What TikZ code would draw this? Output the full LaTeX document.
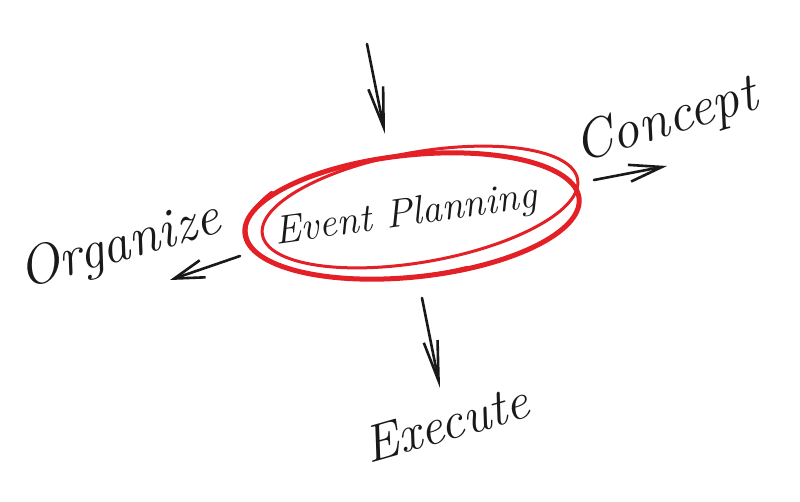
\documentclass[tikz,border=0pt]{standalone}
\usetikzlibrary{arrows.meta}
\definecolor{inkred}{RGB}{226,32,38}
\definecolor{ink}{RGB}{25,25,25}
\begin{document}
\begin{tikzpicture}[x=1pt,y=-1pt,
  hand/.style={font=\itshape, text=ink, inner sep=0pt},
  pen/.style={draw=ink, line width=2.6pt, line cap=round,
    -{Straight Barb[length=30pt,width=18pt,line width=2.6pt]}},
  loop/.style={draw=inkred, line cap=round}]
\useasboundingbox[fill=white] (0,0) rectangle (800,501);

% red loops
\draw[loop, line width=5pt, rotate around={6:(412,216)}] (412,216) ellipse [x radius=168, y radius=61];
\draw[loop, line width=3pt, rotate around={10:(420,207)}] (420,207) ellipse [x radius=160, y radius=55];
\draw[loop, line width=2.4pt, rotate around={8:(415,210)}] (415,210) ++(75:170 and 66) arc [start angle=75, end angle=215, x radius=170, y radius=66];

% texts
\node[hand, font=\itshape\fontsize{40}{44}\selectfont, rotate=8] (plan) at (406,216) {Event Planning};
\node[hand, font=\itshape\fontsize{55}{58}\selectfont, rotate=17] (concept) at (666,122) {Concept};
\node[hand, font=\itshape\fontsize{55}{58}\selectfont, rotate=16] (organize) at (120,247) {Organize};
\node[hand, font=\itshape\fontsize{52}{54}\selectfont, rotate=16] (execute) at (446,423) {Execute};

% connector end points
\coordinate (inS) at (367,44);
\coordinate (inT) at (385,134);
\coordinate (cS) at (594,180);
\coordinate (cT) at (667,166);
\coordinate (oS) at (240,256);
\coordinate (oT) at (170,280);
\coordinate (eS) at (422,298);
\coordinate (eT) at (440,388);

\draw[pen, -{Straight Barb[length=40pt,width=15pt,line width=2.6pt]}] (inS) -- (inT);
\draw[pen, -{Straight Barb[length=33pt,width=17pt,line width=2.6pt]}] (cS) -- (cT);
\draw[pen] (oS) -- (oT);
\draw[pen, -{Straight Barb[length=40pt,width=14pt,line width=2.6pt]}] (eS) -- (eT);
\end{tikzpicture}
\end{document}
